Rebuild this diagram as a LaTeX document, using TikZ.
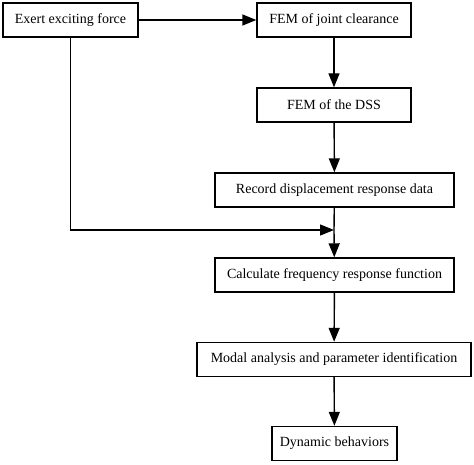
\documentclass[tikz,border=0pt]{standalone}
\usepackage{fontspec}
\setmainfont{Liberation Serif}
\usetikzlibrary{arrows.meta}
\tikzset{box/.style={rectangle,draw,line width=1.4pt,minimum height=34pt,inner sep=0pt}}
\tikzset{flow/.style={line width=1.4pt,-{Triangle[length=14pt,width=11pt]}}}

\begin{document}
\begin{tikzpicture}[x=1pt,y=-1pt,font=\fontsize{14}{16}\selectfont]
      \useasboundingbox (0,0) rectangle (474,465);
      \node[box,minimum width=135pt] (exert) at (70.5,20) {Exert exciting force};
      \node[box,minimum width=154pt] (joint) at (334,20) {FEM of joint clearance};
      \node[box,minimum width=154pt] (dss) at (334,105) {FEM of the DSS};
      \node[box,minimum width=239pt] (record) at (334.5,190) {Record displacement response data};
      \node[box,minimum width=239pt] (calc) at (334.5,275) {Calculate frequency response function};
      \node[box,minimum width=274pt] (modal) at (334,359.5) {Modal analysis and parameter identification};
      \node[box,minimum width=125pt] (dyn) at (334.5,443.5) {Dynamic behaviors};
      \coordinate (meet) at (334,230);
      \foreach \a/\b in {exert/joint,joint/dss,dss/record,meet/calc,calc/modal,modal/dyn}
        \draw[flow] (\a) -- (\b);
      \draw[line width=1.4pt] (record) -- (meet);
      \draw[flow] (exert) |- (meet);
    \end{tikzpicture}
\end{document}
